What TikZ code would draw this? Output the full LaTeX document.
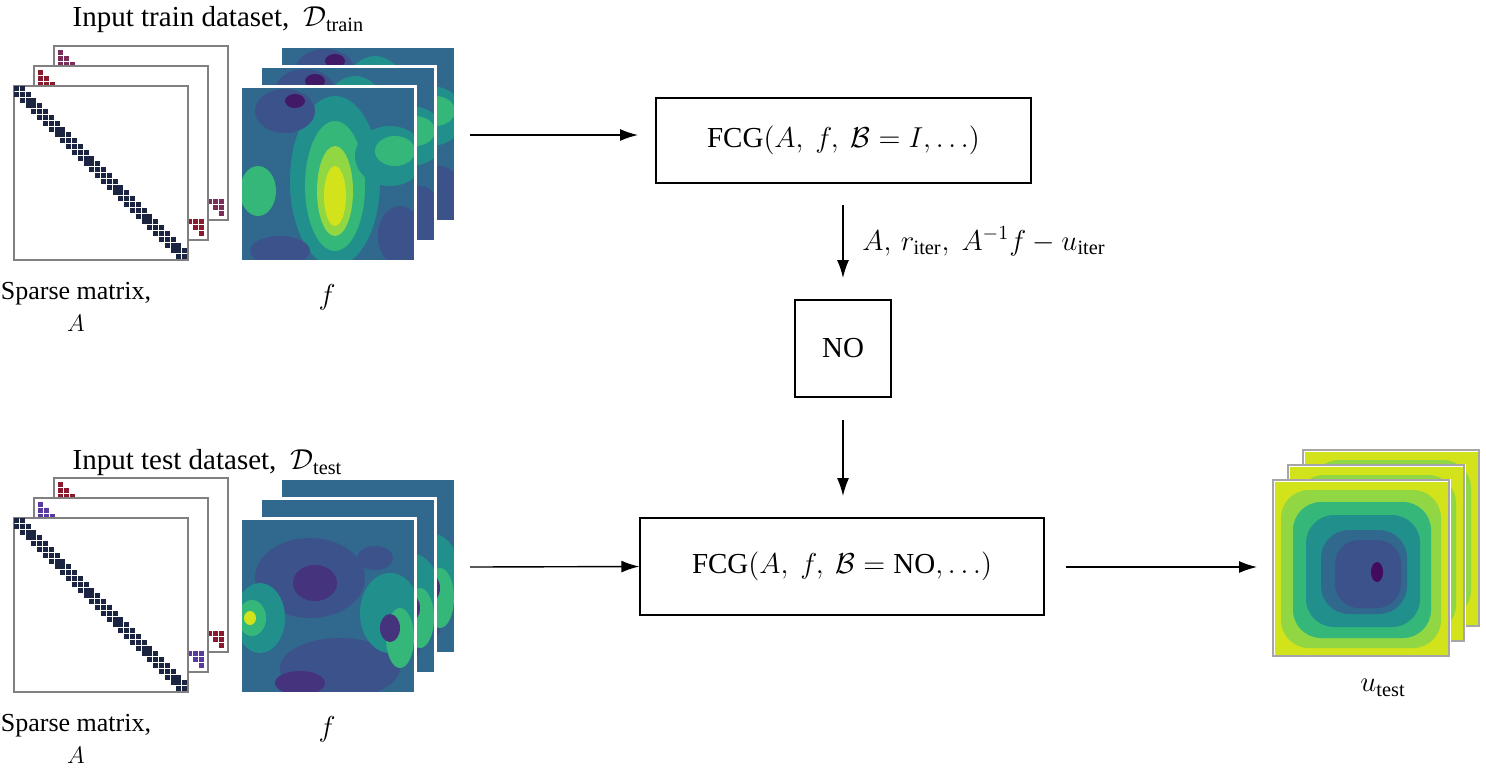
\documentclass[tikz,border=0pt]{standalone}
\usepackage{fontspec}
\setmainfont{Liberation Serif}
\usepackage{amsmath,amssymb}
\usetikzlibrary{positioning,arrows.meta}
\definecolor{vA}{HTML}{46337E}
\definecolor{vB}{HTML}{3B528B}
\definecolor{vC}{HTML}{31688E}
\definecolor{vD}{HTML}{21908C}
\definecolor{vE}{HTML}{35B779}
\definecolor{vF}{HTML}{90D743}
\definecolor{vG}{HTML}{D2E21B}
\definecolor{vK}{HTML}{440154}
\definecolor{navy}{HTML}{1B2440}
\definecolor{plum}{HTML}{7B2D5A}
\definecolor{wine}{HTML}{8B1A2E}
\definecolor{violet}{HTML}{5B3AA0}

% sparse matrix stack, front frame at (#1,#2), corner colours #3 and #4
\newcommand{\spmat}[4]{%
  \foreach \o/\c in {40/#3,20/#4}{
    \draw[gray, fill=white] (#1+\o,#2-\o) rectangle ++(174,174);
    \foreach \r in {0,1,2}{
      \foreach \k in {0,...,\r}{
        \fill[\c] (#1+\o+4+\k*5.8,#2-\o+4+\r*5.8) rectangle ++(5,5);
        \fill[\c] (#1+\o+174-4-\k*5.8-5,#2-\o+174-4-\r*5.8-5) rectangle ++(5,5);
      }
    }
  }
  \draw[gray, fill=white] (#1,#2) rectangle ++(174,174);
  \foreach \i in {0,...,29}{
    \fill[navy] (#1+\i*5.8,#2+\i*5.8) rectangle ++(5,5);
    \ifnum\i<29
      \fill[navy] (#1+\i*5.8+5.8,#2+\i*5.8) rectangle ++(5,5);
      \fill[navy] (#1+\i*5.8,#2+\i*5.8+5.8) rectangle ++(5,5);
    \fi
  }
}

% contour-like fields
\newcommand{\trainfield}[2]{%
  \begin{scope}
    \clip (#1,#2) rectangle ++(175,175);
    \fill[vC] (#1,#2) rectangle ++(175,175);
    \fill[vD] (#1+95,#2+95) ellipse [x radius=45, y radius=85];
    \fill[vE] (#1+95,#2+100) ellipse [x radius=30, y radius=65];
    \fill[vF] (#1+95,#2+105) ellipse [x radius=18, y radius=45];
    \fill[vG] (#1+95,#2+110) ellipse [x radius=11, y radius=30];
    \fill[vB] (#1+45,#2+25) ellipse [x radius=30, y radius=22];
    \fill[vK!70!vB] (#1+55,#2+15) ellipse [x radius=10, y radius=7];
    \fill[vE] (#1+18,#2+105) ellipse [x radius=18, y radius=25];
    \fill[vD] (#1+150,#2+70) ellipse [x radius=35, y radius=30];
    \fill[vE] (#1+155,#2+65) ellipse [x radius=20, y radius=15];
    \fill[vB] (#1+160,#2+150) ellipse [x radius=22, y radius=30];
    \fill[vB] (#1+40,#2+165) ellipse [x radius=30, y radius=15];
  \end{scope}
  \draw[white, line width=1.5] (#1,#2) rectangle ++(175,175);
}
\newcommand{\testfield}[2]{%
  \begin{scope}
    \clip (#1,#2) rectangle ++(175,175);
    \fill[vC] (#1,#2) rectangle ++(175,175);
    \fill[vB] (#1+70,#2+60) ellipse [x radius=55, y radius=40];
    \fill[vA] (#1+75,#2+65) ellipse [x radius=22, y radius=18];
    \fill[vB] (#1+100,#2+150) ellipse [x radius=60, y radius=30];
    \fill[vA] (#1+60,#2+165) ellipse [x radius=25, y radius=12];
    \fill[vD] (#1+20,#2+100) ellipse [x radius=25, y radius=35];
    \fill[vE] (#1+12,#2+100) ellipse [x radius=14, y radius=18];
    \fill[vG] (#1+10,#2+100) ellipse [x radius=6, y radius=7];
    \fill[vD] (#1+150,#2+95) ellipse [x radius=30, y radius=40];
    \fill[vE] (#1+160,#2+120) ellipse [x radius=14, y radius=30];
    \fill[vB] (#1+135,#2+40) ellipse [x radius=18, y radius=12];
    \fill[vA] (#1+150,#2+110) ellipse [x radius=10, y radius=14];
  \end{scope}
  \draw[white, line width=1.5] (#1,#2) rectangle ++(175,175);
}
\newcommand{\solfield}[2]{%
  \begin{scope}
    \clip (#1,#2) rectangle ++(176,176);
    \fill[vG] (#1,#2) rectangle ++(176,176);
    \fill[vF, rounded corners=14pt] (#1+8,#2+10) rectangle ++(160,158);
    \fill[vE, rounded corners=14pt] (#1+20,#2+22) rectangle ++(138,136);
    \fill[vD, rounded corners=14pt] (#1+33,#2+35) rectangle ++(114,112);
    \fill[vC, rounded corners=14pt] (#1+48,#2+50) rectangle ++(86,84);
    \fill[vB, rounded corners=12pt] (#1+62,#2+60) rectangle ++(66,68);
    \fill[vK!80!vA] (#1+104,#2+92) ellipse [x radius=6, y radius=10];
  \end{scope}
  \draw[white, line width=1.5] (#1,#2) rectangle ++(176,176);
  \draw[gray!70] (#1,#2) rectangle ++(176,176);
}

\begin{document}
\begin{tikzpicture}[x=0.5pt, y=-0.5pt, >={Latex[length=9pt,width=6pt]},
    line width=0.7pt, font=\fontsize{14.5}{17}\selectfont]
  \tikzstyle{box}=[draw, align=center, inner sep=0pt]
  \tikzstyle{lbl}=[align=center, inner sep=0pt, font=\fontsize{13}{16}\selectfont]
  \useasboundingbox (0,0) rectangle (1486,773);

  % train inputs
  \node[anchor=west, inner sep=0pt] (trainT) at (72,20) {Input train dataset, \ $\mathcal{D}_{\text{train}}$};
  \spmat{14}{86}{plum}{wine}
  \foreach \o in {40,20,0} {\trainfield{240+\o}{86-\o}}
  \node[lbl] (trainA) at (76,307) {Sparse matrix,\\$A$};
  \node (trainF) at (327,297) {$f$};
  \coordinate (trainO) at (470,135);

  % test inputs
  \node[anchor=west, inner sep=0pt] (testT) at (72,463) {Input test dataset, \ $\mathcal{D}_{\text{test}}$};
  \spmat{14}{518}{wine}{violet}
  \foreach \o in {40,20,0} {\testfield{240+\o}{518-\o}}
  \node[lbl] (testA) at (76,739) {Sparse matrix,\\$A$};
  \node (testF) at (327,729) {$f$};
  \coordinate (testO) at (470,567);

  % pipeline
  \node[box, minimum width=187.5pt, minimum height=42.5pt] (fcgtrain) at (843.5,140.5)
    {FCG$(A,\ f,\ \mathcal{B}=I,\ldots)$};
  \node[box, minimum width=48pt, minimum height=48.5pt] (no) at (843,348.5) {NO};
  \node[box, minimum width=202pt, minimum height=48.5pt] (fcgtest) at (842,566.5)
    {FCG$(A,\ f,\ \mathcal{B}=\text{NO},\ldots)$};
  \coordinate (trainI) at (638,135);
  \coordinate (d1) at (843,205);
  \coordinate (d2) at (843,278);
  \coordinate (d3) at (843,420);
  \coordinate (d4) at (843,496);
  \coordinate (outO) at (1066,567);

  % output
  \foreach \o in {30,15,0} {\solfield{1273+\o}{480-\o}}
  \node (utest) at (1383,688) {$u_{\text{test}}$};
  \coordinate (outI) at (1257,567);

  \draw[->] (trainO) -- (trainI);
  \draw[->] (d1) -- node[right=6pt] {$A,\, r_{\text{iter}},\ A^{-1}f-u_{\text{iter}}$} (d2);
  \draw[->] (d3) -- (d4);
  \draw[->] (testO) -- (fcgtest.west);
  \draw[->] (outO) -- (outI);
\end{tikzpicture}
\end{document}
